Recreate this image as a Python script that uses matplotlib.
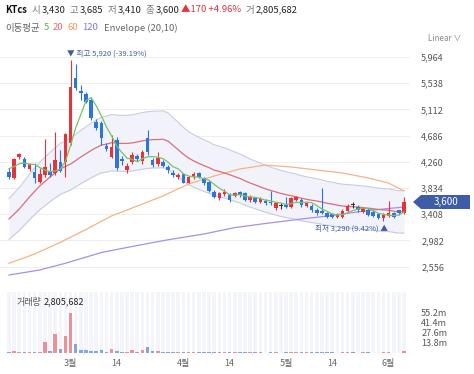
import numpy as np
import pandas as pd
import matplotlib
matplotlib.use('Agg')
import matplotlib.pyplot as plt
from matplotlib.patches import Polygon

plt.rcParams['font.family'] = ['Noto Sans CJK KR', 'DejaVu Sans']

# 일봉 데이터
opens = [4099, 3992, 4343, 4301, 4138, 4099, 3936, 4045, 4115, 4073,
         4261, 4256, 4566, 5623, 5416, 5357, 5265, 4912, 4891, 4522,
         4343, 4614, 4305, 4127, 4256, 4354, 4273, 4652, 4289, 4224,
         4261, 4180, 4083, 4008, 4057, 3920, 4008, 4083, 3992, 3936,
         3774, 3666, 3736, 3720, 3704, 3774, 3748, 3639, 3666, 3611,
         3623, 3611, 3503, 3545, 3558, 3520, 3639, 3639, 3546, 3541,
         3476, 3460, 3422, 3406, 3367, 3367, 3465, 3563, 3530, 3449,
         3476, 3449, 3406, 3351, 3378, 3422, 3470, 3430]
highs = [4159, 4322, 4408, 4343, 4246, 4240, 4159, 4626, 4240, 4749,
         4452, 4723, 5920, 5850, 5509, 5395, 5314, 4956, 4923, 4560,
         4696, 4663, 4354, 4240, 4419, 4387, 4452, 4777, 4322, 4424,
         4289, 4208, 4127, 4073, 4083, 4029, 4099, 4099, 4018, 3964,
         3801, 3774, 3813, 3748, 3774, 3790, 3774, 3720, 3693, 3683,
         3650, 3790, 3611, 3585, 3693, 3683, 3710, 3666, 3611, 3569,
         3503, 3829, 3444, 3422, 3428, 3492, 3569, 3611, 3558, 3530,
         3503, 3476, 3422, 3422, 3628, 3444, 3480, 3685]
lows = [3980, 3980, 4301, 4154, 4115, 3915, 3915, 4018, 4018, 4045,
        4099, 4018, 4533, 5427, 5265, 5216, 4940, 4777, 4533, 4440,
        4322, 4127, 4208, 4078, 4224, 4273, 4224, 4371, 4175, 4190,
        4175, 4073, 4008, 3975, 3910, 3910, 3975, 3992, 3883, 3774,
        3666, 3639, 3704, 3611, 3683, 3693, 3622, 3611, 3595, 3585,
        3558, 3558, 3476, 3487, 3503, 3503, 3622, 3530, 3520, 3449,
        3395, 3406, 3346, 3340, 3341, 3346, 3449, 3503, 3449, 3422,
        3378, 3367, 3335, 3290, 3362, 3346, 3400, 3410]
closes = [4017, 4301, 4387, 4180, 4219, 3992, 4057, 4180, 4045, 4289,
          4115, 4712, 5476, 5460, 5374, 5237, 4972, 4810, 4647, 4468,
          4506, 4159, 4273, 4192, 4371, 4305, 4414, 4424, 4208, 4322,
          4190, 4127, 4045, 4045, 3920, 4008, 4057, 4018, 3920, 3785,
          3683, 3748, 3774, 3639, 3748, 3720, 3639, 3693, 3611, 3650,
          3585, 3585, 3585, 3545, 3520, 3666, 3693, 3558, 3585, 3476,
          3422, 3422, 3367, 3367, 3395, 3465, 3541, 3563, 3476, 3503,
          3395, 3384, 3351, 3395, 3432, 3367, 3430, 3600]
# 거래량 (백만주)
volumes = [1.5, 2.7, 1.5, 1.5, 1.2, 1.5, 1.5, 15, 2.5, 26,
           6, 23, 55, 12, 4.6, 3.5, 3, 3, 3.5, 1.5,
           5, 3, 1.5, 1.5, 4, 1.5, 4, 7.8, 2.5, 3,
           1.2, 1, 0.9, 0.8, 1.2, 1, 0.8, 0.8, 1, 1.5,
           1.2, 1, 0.8, 1, 0.7, 0.8, 1, 0.8, 0.7, 0.7,
           0.6, 1.2, 0.9, 0.6, 0.8, 1.5, 0.9, 0.8, 0.7, 0.8,
           0.8, 2.0, 0.8, 0.7, 0.6, 1.0, 0.9, 0.7, 0.6, 0.7,
           0.7, 0.6, 0.6, 0.8, 1.2, 0.6, 0.6, 2.805682]

# 화면 이전 데이터가 필요한 이동평균 구간
ma5_head = [4150, 4180, 4230, 4240]
ma20_head = [3330, 3410, 3493, 3590, 3688, 3780, 3867, 3940, 4013, 4080,
             4143, 4185, 4224, 4280, 4338, 4390, 4444, 4490, 4533]
ma60_idx = [0, 5, 10, 15, 20, 25, 30, 35, 40, 45, 50, 55, 60, 65, 70, 74, 77]
ma60_vals = [2610, 2761, 2950, 3159, 3380, 3541, 3704, 3899, 4029, 4143,
             4208, 4175, 4127, 4078, 3997, 3915, 3785]
ma120_idx = [0, 6, 11, 18, 24, 31, 38, 44, 50, 57, 63, 70, 77]
ma120_vals = [2419, 2501, 2610, 2785, 2883, 2992, 3086, 3190, 3257, 3330,
              3387, 3468, 3525]

tick_pos = [12, 21, 34, 43, 54, 63, 74]
tick_labels = ['3월', '14', '4월', '14', '5월', '14', '6월']
price_ticks = [2556, 2982, 3408, 3834, 4260, 4686, 5112, 5538, 5964]
vol_ticks = [13.8, 27.6, 41.4, 55.2]

W, H = 474, 374
RED, BLUE, DARK = '#e5323b', '#2f74dc', '#333333'

o = np.array(opens, float)
c = np.array(closes, float)
idx = np.arange(len(o))
colors = [RED if cc > oo else (BLUE if cc < oo else DARK) for oo, cc in zip(o, c)]

ma5 = pd.Series(c).rolling(5).mean().values
ma5[:len(ma5_head)] = ma5_head
ma20 = pd.Series(c).rolling(20).mean().values
ma20[:len(ma20_head)] = ma20_head

fig = plt.figure(figsize=(W / 100, H / 100), dpi=100)
ax = fig.add_axes([0, (H - 285) / H, 410 / W, 240 / H])
axv = fig.add_axes([0, (H - 353) / H, 410 / W, 61 / H])

xlim = (-9 / 5.13, (410 - 9) / 5.13)
for a in (ax, axv):
    a.set_xlim(*xlim)
    for s in a.spines.values():
        s.set_visible(False)

# ===== 가격 차트 =====
ax.set_ylim(5964 - (285 - 57) * 16.26, 5964 + 12 * 16.26)
ax.set_yticks(price_ticks, [f'{v:,}' for v in price_ticks])
ax.yaxis.tick_right()
ax.tick_params(axis='y', length=0, pad=8, labelsize=6.5, labelcolor='#555555')
ax.set_xticks([])
ax.grid(axis='y', color='#eeeeee', lw=0.7)
ax.set_axisbelow(True)

# Envelope (20, 10)
ax.fill_between(idx, ma20 * 0.9, ma20 * 1.1, color='#f1f2fa', lw=0, zorder=1)
ax.plot(idx, ma20 * 1.1, color='#c9cce2', lw=0.8, zorder=2)
ax.plot(idx, ma20 * 0.9, color='#c9cce2', lw=0.8, zorder=2)

ax.plot(ma120_idx, ma120_vals, color='#a88ee8', lw=0.9, zorder=2)
ax.plot(ma60_idx, ma60_vals, color='#f5b386', lw=0.9, zorder=2)
ax.plot(idx, ma20, color='#d9707a', lw=0.9, zorder=2)
ax.plot(idx, ma5, color='#79c267', lw=0.9, zorder=4)

# 캔들
ax.vlines(idx, lows, highs, colors=colors, lw=0.8, zorder=3)
ax.bar(idx, np.maximum(np.abs(c - o), 10), bottom=np.minimum(o, c),
       width=0.7, color=colors, zorder=3)

ax.annotate('▼ 최고 5,920 (-39.19%)', xy=(12, 5920), xytext=(-2.5, 1.5),
            textcoords='offset points', ha='left', va='bottom',
            fontsize=5.5, color='#3f5ca6')
ax.annotate('최저 3,290 (9.42%) ▲', xy=(73, 3290), xytext=(3, -2),
            textcoords='offset points', ha='right', va='top',
            fontsize=5.5, color='#3f5ca6')

# ===== 거래량 =====
vmax = 61 * 1.38
axv.set_ylim(0, vmax)
axv.bar(idx, [vmax] * len(idx), width=0.7, color='#f4f5fa', zorder=0)
vcol = ['#ef8e94' if cl == RED else ('#7fa7e6' if cl == BLUE else '#999999') for cl in colors]
axv.bar(idx, volumes, width=0.7, color=vcol, zorder=2)
axv.set_yticks(vol_ticks, [f'{v}m' for v in vol_ticks])
axv.yaxis.tick_right()
axv.tick_params(axis='y', length=0, pad=8, labelsize=6.5, labelcolor='#555555')
axv.set_xticks(tick_pos, tick_labels)
axv.tick_params(axis='x', length=0, pad=4, labelsize=6.5, labelcolor='#666666')

# ===== 상단 텍스트 =====
renderer = fig.canvas.get_renderer()


def put_row(x, y, parts, size=6.8):
    for text, color, weight, gap in parts:
        t = fig.text(x / W, 1 - y / H, text, color=color, fontsize=size,
                     fontweight=weight, va='center', ha='left')
        x += t.get_window_extent(renderer).width + gap


G, K = '#777777', '#222222'
put_row(5, 10, [('KTcs', '#111111', 'bold', 5),
                ('시', G, 'normal', 1.5), ('3,430', K, 'normal', 4),
                ('고', G, 'normal', 1.5), ('3,685', K, 'normal', 4),
                ('저', G, 'normal', 1.5), ('3,410', K, 'normal', 4),
                ('종', G, 'normal', 1.5), ('3,600', K, 'normal', 2),
                ('▲170 +4.96%', RED, 'normal', 4),
                ('거', G, 'normal', 1.5), ('2,805,682', K, 'normal', 0)])
put_row(5, 28, [('이동평균', '#666666', 'normal', 4),
                ('5', '#5fb04a', 'normal', 4), ('20', '#e8646a', 'normal', 4),
                ('60', '#f39a55', 'normal', 4), ('120', '#8a72d8', 'normal', 6),
                ('Envelope (20,10)', '#666666', 'normal', 0)], size=6.8)
put_row(17, 302, [('거래량', '#555555', 'normal', 2),
                  ('2,805,682', '#222222', 'normal', 0)], size=6.5)

fig.text(428 / W, 1 - 38 / H, 'Linear ∨', color='#888888', fontsize=5.8,
         va='center', ha='left')

# 현재가 태그
tag = [(413, 202), (421, 195), (470, 195), (470, 209), (421, 209)]
fig.patches.append(Polygon([(px / W, 1 - py / H) for px, py in tag], closed=True,
                           transform=fig.transFigure, fc='#3e5ca8', ec='none'))
fig.text(446 / W, 1 - 202 / H, '3,600', color='white', fontsize=7,
         va='center', ha='center')

fig.savefig('out.png', dpi=100)
